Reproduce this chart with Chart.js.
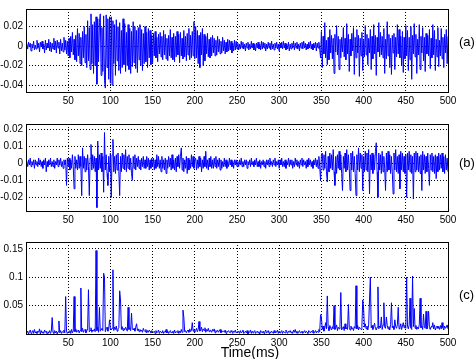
<!DOCTYPE html>
<html>
<head>
<meta charset="utf-8">
<script src="https://cdn.jsdelivr.net/npm/chart.js@4.4.1/dist/chart.umd.min.js"></script>
<style>
  body { margin: 0; background: #fff; font-family: "Liberation Sans", Arial, sans-serif; }
  #wrap { position: relative; width: 474px; height: 359px; overflow: hidden; }
  canvas { position: absolute; left: 0; }
  .tag { position: absolute; left: 459px; font-size: 13px; line-height: 16px; color: #000; }
  #xtitle { position: absolute; left: 200px; width: 100px; top: 344px; text-align: center; font-size: 14px; line-height: 16px; }
</style>
</head>
<body>
<div id="wrap">
  <canvas id="chartA" width="474" height="108" style="top:0px"></canvas>
  <canvas id="chartB" width="474" height="115" style="top:112px"></canvas>
  <canvas id="chartC" width="474" height="120" style="top:230px"></canvas>
  <div class="tag" style="top:34px">(a)</div>
  <div class="tag" style="top:155px">(b)</div>
  <div class="tag" style="top:287px">(c)</div>
  <div id="xtitle">Time(ms)</div>
</div>
<script>
// one sample per ms, first one at t = 1 ms
const timeStepMs = 1;
const xTicks = [50, 100, 150, 200, 250, 300, 350, 400, 450, 500];

// values are in units of 0.001, one block of five lines = 50 ms
const signalA = [
  2, -3, 4, -1, 3, -5, 2, -2, 5, -4,  1, -3, 6, -2, 3, -6, 4, -1, 5, -3,
  2, -7, 6, -4, 3, -2, 7, -5, 4, -6,  3, -3, 8, -4, 5, -7, 6, -2, 4, -8,
  7, -5, 3, -6, 9, -4, 6, -8, 5, -10,

  8, -12, 10, -6, 14, -9, 7, -14, 11, -16,  18, -10, 13, -18, 9, -20, 15, -12, 20, -17,
  12, -22, 26, -15, 19, -24, 33, -18, 22, -28,  25, -20, 30, -39, 28, -16, 24, 33, -30, 19,
  -26, 31, -35, -43, 32, -22, 28, -34, 30, -38,

  30, -40, 26, -18, 22, -30, 27, -15, 20, -25,  24, -28, 16, -22, 28, -19, 23, -26, 14, -20,
  22, -24, 18, -28, 15, -21, 25, -17, 20, -23,  16, -27, 19, -14, 22, -20, 17, -25, 13, -18,
  20, -16, 14, -22, 18, -12, 16, -19, 11, -17,

  13, -10, 15, -12, 9, -16, 12, -8, 14, -11,  10, -14, 16, -9, 12, -13, 8, -15, 11, -10,
  17, -12, 9, -14, 13, -16, 10, -11, 15, -9,  12, -17, 14, -10, 8, -13, 16, -11, 10, -15,
  13, -9, 18, -14, 11, -12, 15, -10, 25, -13,

  20, -12, 16, -18, 11, -22, 14, -9, 18, -20,  12, -15, 10, -8, 13, -11, 7, -12, 9, -10,
  11, -7, 8, -10, 6, -9, 10, -6, 7, -8,  5, -7, 9, -5, 6, -8, 4, -6, 7, -5,
  6, -4, 5, -7, 3, -5, 6, -4, 5, -3,

  3, -4, 2, -3, 5, -2, 4, -3, 2, -5,  3, -2, 4, -4, 2, -3, 5, -2, 3, -4,
  2, -5, 3, -2, 4, -3, 2, -4, 5, -3,  4, -2, 3, -5, 2, -3, 4, -2, 3, -4,
  5, -3, 2, -4, 3, -2, 4, -3, 2, -5,

  3, -2, 4, -3, 5, -2, 3, -4, 2, -3,  4, -5, 2, -3, 3, -2, 5, -4, 3, -2,
  4, -3, 2, -5, 3, -2, 4, -3, 5, -2,  3, -4, 2, -3, 4, -2, 5, -3, 2, -4,
  3, -2, 4, -5, 3, -2, 4, -3, -12, 15,

  -22, 10, -8, 24, -12, 6, -19, 9, -14, 17,  -7, 11, -13, 8, -28, 12, -6, 21, -9, 10,
  -24, 7, -12, 9, -6, 19, -11, 8, -14, 23,  -8, 12, -26, 7, -10, 13, -5, 19, -29, 9,
  -12, 17, -7, 11, -31, 8, -10, 14, -25, 6,

  -11, 21, -9, 12, -19, 8, -7, 17, -24, 10,  -13, 22, -8, 11, -30, 9, -6, 24, -11, 14,
  -9, 10, -12, 18, -28, 7, -13, 25, -10, 12,  -22, 8, -29, 11, -7, 13, -24, 9, -11, 22,
  -8, 17, -12, 10, -20, 15, -27, 9, -13, 21,

  -10, 16, -25, 9, -14, 20, -34, 11, -8, 23,  -11, 12, -28, 7, -9, 22, -24, 10, -7, 19,
  -15, 9, -26, 13, -8, 11, -10, 17, -23, 8,  -12, 22, -9, 16, -25, 7, -11, 19, -21, 6,
  -10, 18, -13, 9, -22, 12, -7, 17, -18, 10
];

const signalB = [
  1, -2, 2, -1, 3, -2, 1, -1, 2, -3,  2, -1, 1, -2, 3, -1, 2, -2, 1, -3,
  2, -1, 3, -5, 1, -2, 2, -1, 3, -2,  1, -2, 2, -3, 1, -1, 3, -2, 2, -1,
  3, -2, 1, -3, 2, -1, 2, -13, 3, -2,

  3, -4, 2, -3, 5, -2, -15, 4, -3, 2,  -4, 5, -3, 4, -2, -19, 9, -3, 4, -5,
  3, -4, 5, -2, -19, 3, 11, -4, 5, -3,  4, -5, 3, -26, 13, -4, 5, -3, 6, -5,
  4, -17, 18, -4, 5, -6, -13, 4, -5, 6,

  -20, 5, 14, -5, 4, -6, 5, -4, 6, -5,  -19, 4, -5, 6, -3, 5, -4, 8, -5, 4,
  -3, 5, -4, 3, -6, -10, 4, -3, 5, -4,  3, -2, 4, -3, 2, -4, 3, -2, 4, -3,
  2, -3, 4, -2, 3, -4, 2, -3, 3, -2,

  3, -4, 2, -3, 5, -2, 4, -3, 2, -5,  4, -3, 2, -4, 3, -6, 2, -3, 4, -2,
  3, -4, 5, -3, 2, -4, 3, -5, 4, -2,  5, -3, 4, 9, -4, 3, -5, 2, -3, 4,
  -6, 3, -4, 2, -3, 5, -2, 4, -3, 2,

  3, -4, 2, -3, 4, -2, 3, -5, 2, -3,  4, -2, 7, -3, 2, -4, 3, -2, 4, -3,
  2, -3, 3, -2, 4, -3, 2, -2, 3, -4,  2, -3, 1, -2, 3, -2, 2, -3, 1, -2,
  3, -1, 2, -2, 1, -3, 2, -1, 2, -2,

  1, -2, 2, -1, 3, -2, 1, -2, 2, -1,  2, -3, 1, -1, 2, -2, 3, -1, 1, -2,
  2, -1, 3, -2, 1, -2, 2, -3, 1, -1,  2, -2, 1, -3, 2, -1, 2, -2, 3, -1,
  1, -2, 2, -1, 3, -2, 1, -1, 2, -3,

  2, -1, 3, -2, 1, -2, 2, -3, 1, -1,  3, -2, 2, -1, 2, -3, 1, -2, 3, -1,
  2, -2, 1, -3, 2, -1, 3, -2, 2, -1,  1, -3, 2, -2, 3, -1, 2, -2, 1, -3,
  2, -1, 3, -2, 2, -3, 4, -2, -10, 5,

  6, -4, 5, -3, 7, -5, -11, 4, -5, 6,  -3, 5, -4, 8, -5, -13, 4, -6, 5, -3,
  7, -4, 5, -6, -16, 4, -3, 6, -5, 8,  -4, 5, -3, -16, 6, -4, 7, -5, 4, -6,
  -19, 5, -4, 9, -5, 6, -3, 5, -16, 4,

  -5, 7, -4, 6, -5, 8, -18, 5, -4, 6,  -6, 5, -4, 7, 12, -5, -20, 6, -4, 5,
  -6, 7, -5, 4, -3, -16, 6, -5, 7, -4,  5, -6, 4, -5, -18, 6, -4, 8, -5, 4,
  -6, 5, -15, 7, -4, 6, -5, 4, -6, 5,

  -20, 6, -4, 7, -5, 5, -6, 4, -21, 6,  -5, 7, -4, 6, -5, 4, -6, 5, -16, 7,
  -4, 5, -6, 4, -5, 6, -3, -13, 5, -4,  6, -5, 4, -6, 5, -9, 4, -5, 6, -4,
  5, -3, 6, -5, 4, -6, 5, -4, 3, -5
];

const signalC = [
  2, 5, 0, 4, 7, 1, 3, 6, 1, 8,  2, 4, 1, 5, 3, 9, 0, 6, 2, 4,
  1, 7, 3, 5, 0, 4, 2, 6, 1, 5,  29, 3, 1, 6, 2, 5, 0, 4, 23, 2,
  6, 1, 4, 3, 7, 2, 66, 5, 1, 4,

  3, 6, 1, 8, 2, 5, 66, 4, 9, 3,  5, 7, 2, 6, 81, 4, 10, 3, 6, 8,
  2, 5, 9, 78, 4, 6, 11, 3, 7, 5,  9, 4, 147, 6, 12, 3, 47, 5, 8, 10,
  6, 107, 100, 4, 9, 12, 5, 8, 25, 11,

  7, 10, 113, 6, 12, 8, 14, 5, 9, 11,  76, 60, 8, 13, 6, 10, 7, 12, 9, 5,
  47, 8, 11, 6, 37, 9, 7, 10, 5, 12,  18, 6, 9, 4, 8, 5, 7, 3, 10, 6,
  4, 8, 2, 6, 3, 7, 5, 2, 6, 4,

  3, 5, 1, 6, 2, 4, 7, 1, 5, 3,  2, 6, 1, 4, 3, 8, 2, 5, 1, 4,
  6, 2, 3, 5, 1, 7, 2, 4, 3, 6,  1, 5, 2, 8, 3, 42, 30, 4, 6, 2,
  5, 7, 3, 9, 4, 6, 20, 5, 8, 3,

  6, 10, 4, 8, 22, 5, 7, 12, 4, 9,  6, 11, 3, 8, 5, 10, 4, 7, 6, 3,
  8, 5, 9, 2, 6, 4, 7, 3, 5, 8,  2, 6, 4, 5, 3, 7, 1, 5, 4, 6,
  3, 2, 6, 4, 1, 5, 3, 7, 2, 4,

  3, 5, 1, 6, 2, 4, 7, 1, 3, 5,  2, 6, 0, 4, 3, 7, 1, 5, 2, 4,
  6, 1, 3, 5, 2, 4, 0, 6, 3, 2,  5, 1, 4, 7, 2, 3, 6, 1, 4, 2,
  5, 3, 1, 6, 2, 4, 3, 7, 1, 5,

  2, 4, 6, 1, 5, 3, 2, 7, 4, 1,  5, 3, 6, 2, 4, 1, 7, 3, 8, 2,
  5, 1, 4, 6, 2, 3, 5, 1, 4, 6,  2, 5, 3, 1, 6, 4, 2, 5, 3, 7,
  1, 4, 6, 2, 5, 3, 8, 4, 34, 30,

  8, 14, 5, 11, 20, 9, 67, 12, 6, 15,  10, 7, 13, 9, 50, 8, 11, 16, 6, 12,
  9, 14, 73, 7, 10, 13, 6, 18, 9, 11,  8, 52, 12, 7, 14, 9, 11, 6, 13, 10,
  85, 9, 15, 7, 12, 10, 8, 14, 60, 45,

  12, 18, 9, 14, 7, 16, 60, 100, 11, 15,  8, 13, 19, 10, 7, 12, 83, 9, 14, 11,
  30, 8, 16, 55, 12, 10, 30, 15, 9, 13,  7, 17, 55, 11, 14, 8, 25, 13, 10, 16,
  47, 9, 12, 18, 8, 14, 20, 11, 16, 10,

  100, 14, 9, 16, 63, 11, 8, 102, 13, 45,  10, 15, 8, 12, 9, 17, 63, 11, 14, 8,
  35, 12, 10, 40, 9, 15, 40, 11, 8, 13,  12, 20, 9, 16, 7, 11, 14, 10, 13, 8,
  15, 9, 20, 11, 7, 14, 10, 12, 16, 9
];

const yTicksA = [-0.04, -0.02, 0, 0.02];
const yTicksB = [-0.02, -0.01, 0, 0.01, 0.02];
const yTicksC = [0.05, 0.1, 0.15];

const tickFont = { family: "'Liberation Sans', Arial, sans-serif", size: 10 };

function toPoints(vals) {
  return vals.map((v, i) => ({ x: 1 + i * timeStepMs, y: v / 1000 }));
}

// black frame round the plot area
const boxPlugin = {
  id: "box",
  afterDraw(chart) {
    const { ctx, chartArea: a } = chart;
    ctx.save();
    ctx.strokeStyle = "#000";
    ctx.lineWidth = 1;
    ctx.strokeRect(Math.round(a.left) + 0.5, Math.round(a.top) + 0.5,
      Math.round(a.right - a.left), Math.round(a.bottom - a.top));
    ctx.restore();
  }
};

function drawPanel(id, values, yMin, yMax, yTicks, padTop) {
  const grid = { color: "#000", lineWidth: 1, drawTicks: false };
  const border = { display: false, dash: [1, 2] };
  new Chart(document.getElementById(id), {
    type: "line",
    data: {
      datasets: [{
        data: toPoints(values),
        borderColor: "#0000ff",
        borderWidth: 1,
        pointRadius: 0,
        tension: 0
      }]
    },
    options: {
      responsive: false,
      animation: false,
      events: [],
      layout: { padding: { top: padTop, right: 26, left: 0, bottom: 0 } },
      plugins: { legend: { display: false }, tooltip: { enabled: false } },
      scales: {
        x: {
          type: "linear",
          min: 0,
          max: 500,
          afterBuildTicks: (s) => { s.ticks = xTicks.map((v) => ({ value: v })); },
          afterFit: (s) => { s.height = 16; },
          ticks: { font: tickFont, color: "#000", padding: 3, maxRotation: 0, autoSkip: false,
                   callback: (v) => String(v) },
          grid: grid,
          border: border
        },
        y: {
          min: yMin,
          max: yMax,
          afterBuildTicks: (s) => { s.ticks = yTicks.map((v) => ({ value: v })); },
          afterFit: (s) => { s.width = 26; },
          ticks: { font: tickFont, color: "#000", padding: 3, callback: (v) => String(v) },
          grid: grid,
          border: border
        }
      }
    },
    plugins: [boxPlugin]
  });
}

drawPanel("chartA", signalA, -0.047, 0.038, yTicksA, 1);
drawPanel("chartB", signalB, -0.028, 0.023, yTicksB, 12);
drawPanel("chartC", signalC, 0, 0.162, yTicksC, 12);
</script>
</body>
</html>
